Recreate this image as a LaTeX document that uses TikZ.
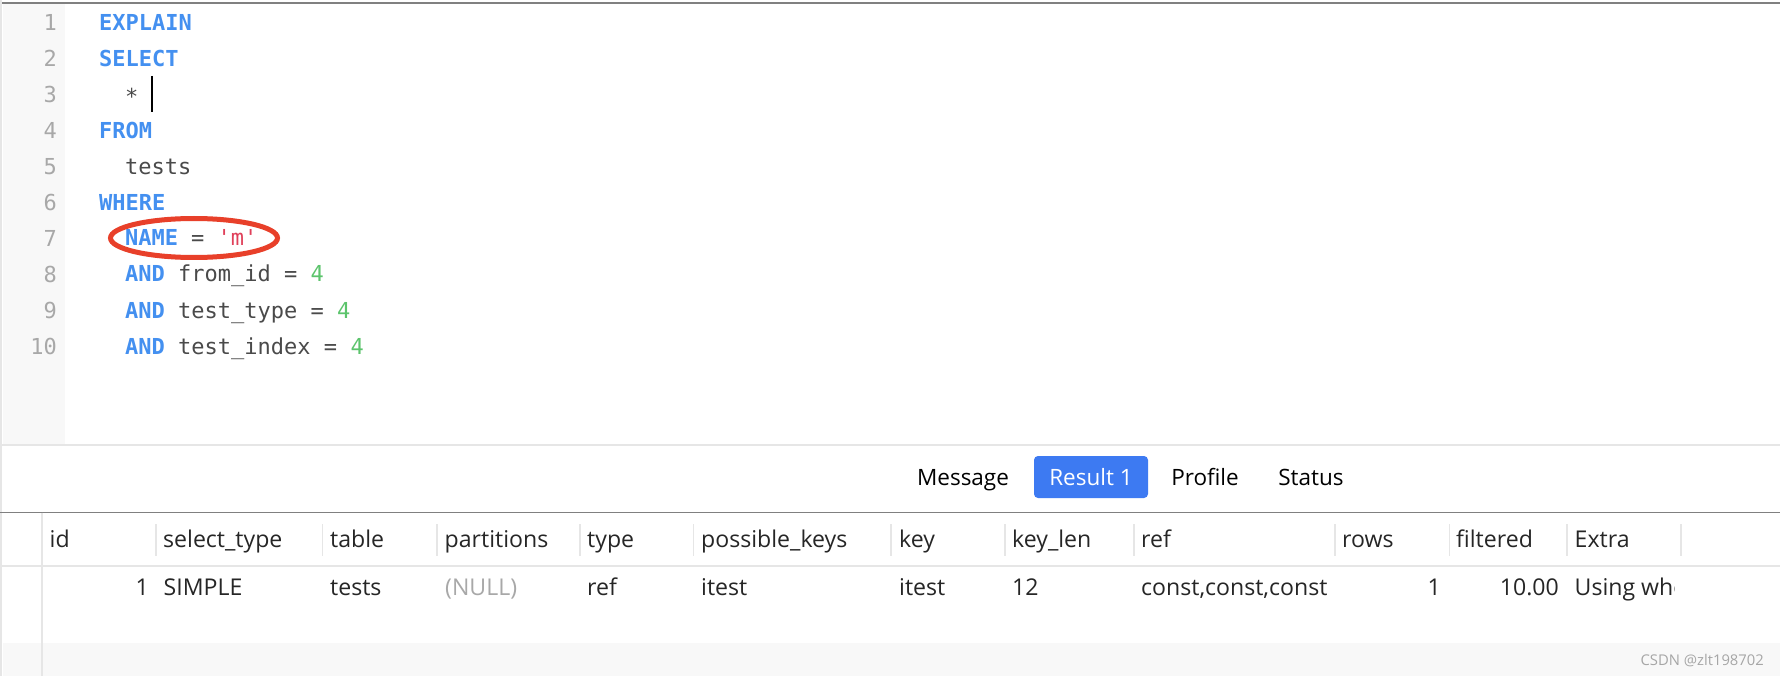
\documentclass[tikz,border=0pt]{standalone}
\usepackage{fontspec}
\setmainfont{Open Sans}
\newfontfamily\codefont{DejaVu Sans Mono}
\definecolor{kwblue}{HTML}{4490F0}
\definecolor{numgreen}{HTML}{5CC46C}
\definecolor{strred}{HTML}{E0405A}
\definecolor{codegray}{HTML}{4A4A4A}
\definecolor{linenum}{HTML}{A8A8A8}
\definecolor{paleline}{HTML}{E6E6E6}
\definecolor{paleband}{HTML}{F8F8F8}
\definecolor{btnblue}{HTML}{3D7AF2}
\definecolor{markred}{HTML}{E8402A}
\tikzset{
  code/.style={anchor=base west, inner sep=0pt, text=codegray, font=\codefont\fontsize{22}{26}\selectfont},
  kw/.style={code, text=kwblue, font=\codefont\bfseries\fontsize{22}{26}\selectfont},
  gutter/.style={code, anchor=base east, text=linenum},
  cell/.style={anchor=base west, inner sep=0pt, text=black!85, font=\fontsize{23.1}{27}\selectfont},
  tab/.style={anchor=base, inner sep=0pt, font=\fontsize{22.5}{26}\selectfont},
  sep/.style={paleline, line width=1.5pt},
}
\begin{document}
\begin{tikzpicture}[x=1pt, y=-1pt]
\useasboundingbox (0,0) rectangle (1780,676);
\fill[white] (0,0) rectangle (1780,676);

% editor
\fill[paleband] (3,3) rectangle (65,444.5);
\fill[paleband] (3,643) rectangle (1780,676);
\draw[gray, line width=1.5pt] (0,3) -- (1780,3);
\draw[paleline, line width=2pt] (1,0) -- (1,676);
\draw[sep, line width=2pt] (0,444.5) -- (1780,444.5);

\foreach \n in {1,...,10}
  \node[gutter] (num\n) at (57,{30.5+36*(\n-1)}) {\n};

\node[kw] (l1) at (99,30.5) {EXPLAIN};
\node[kw] (l2) at (99,66.5) {SELECT};
\node[code] (l3) at (125,105) {*};
\node[kw] (l4) at (99,138.5) {FROM};
\node[code] (l5) at (125,174.5) {tests};
\node[kw] (l6) at (99,210.5) {WHERE};

\node[kw] (l7) at (125,246) {NAME};
\node[code] (l7b) at (191,246) {=};
\node[code, text=strred] (l7c) at (217.5,246) {'m'};

\node[kw] (l8) at (125,282) {AND};
\node[code] (l8b) at (178,282) {from\_id =};
\node[code, text=numgreen] (l8c) at (310.5,282) {4};
\node[kw] (l9) at (125,318) {AND};
\node[code] (l9b) at (178,318) {test\_type =};
\node[code, text=numgreen] (l9c) at (337,318) {4};
\node[kw] (l10) at (125,354) {AND};
\node[code] (l10b) at (178,354) {test\_index =};
\node[code, text=numgreen] (l10c) at (350.5,354) {4};

% cursor and the red mark
\draw[black, line width=2pt] (152,76) -- (152,112);
\draw[markred, line width=5pt] (194,238) ellipse (83.5 and 19.5);

% tabs
\fill[btnblue, rounded corners=4pt] (1034,456) rectangle (1148,498);
\node[tab] (message) at (963,485) {Message};
\node[tab, text=white] (result) at (1091,485) {Result 1};
\node[tab] (profile) at (1205,485) {Profile};
\node[tab] (status) at (1311,485) {Status};

% table
\draw[gray, line width=1.5pt] (0,512.5) -- (1780,512.5);
\draw[sep, line width=2pt] (0,566) -- (1780,566);
\draw[sep] (42,512.5) -- (42,676);
\foreach \x in {156,322.5,437,580,693.5,891,1005,1134,1335,1449.5,1567,1681}
  \draw[sep] (\x,524) -- (\x,556);

\foreach \x/\name/\txt in {49.5/id/id, 163/seltype/select\_type, 330/tbl/table, 444.5/parts/partitions,
    587/type/type, 701/poss/possible\_keys, 899/key/key, 1012/keylen/key\_len,
    1141/ref/ref, 1342/rows/rows, 1456/filt/filtered, 1574.5/extra/Extra}
  \node[cell] (hd\name) at (\x,547) {\txt};

\node[cell, anchor=base east] (v1) at (149,595) {1};
\node[cell] (v2) at (163.5,595) {SIMPLE};
\node[cell] (v3) at (330,595) {tests};
\node[cell, text=linenum] (v4) at (445,595) {(NULL)};
\node[cell] (v5) at (587,595) {ref};
\node[cell] (v6) at (701,595) {itest};
\node[cell] (v7) at (899,595) {itest};
\node[cell] (v8) at (1012,595) {12};
\node[cell] (v9) at (1141,595) {const,const,const};
\node[cell, anchor=base east] (v10) at (1441,595) {1};
\node[cell, anchor=base east] (v11) at (1559,595) {10.00};
\begin{scope}
\clip (1570,570) rectangle (1674,610);
\node[cell] (v12) at (1574.5,595) {Using where};
\end{scope}

\node[anchor=base east, inner sep=0pt, text=gray!70, font=\fontsize{14.8}{18}\selectfont] (mark) at (1764,665) {CSDN @zlt198702};
\end{tikzpicture}
\end{document}
